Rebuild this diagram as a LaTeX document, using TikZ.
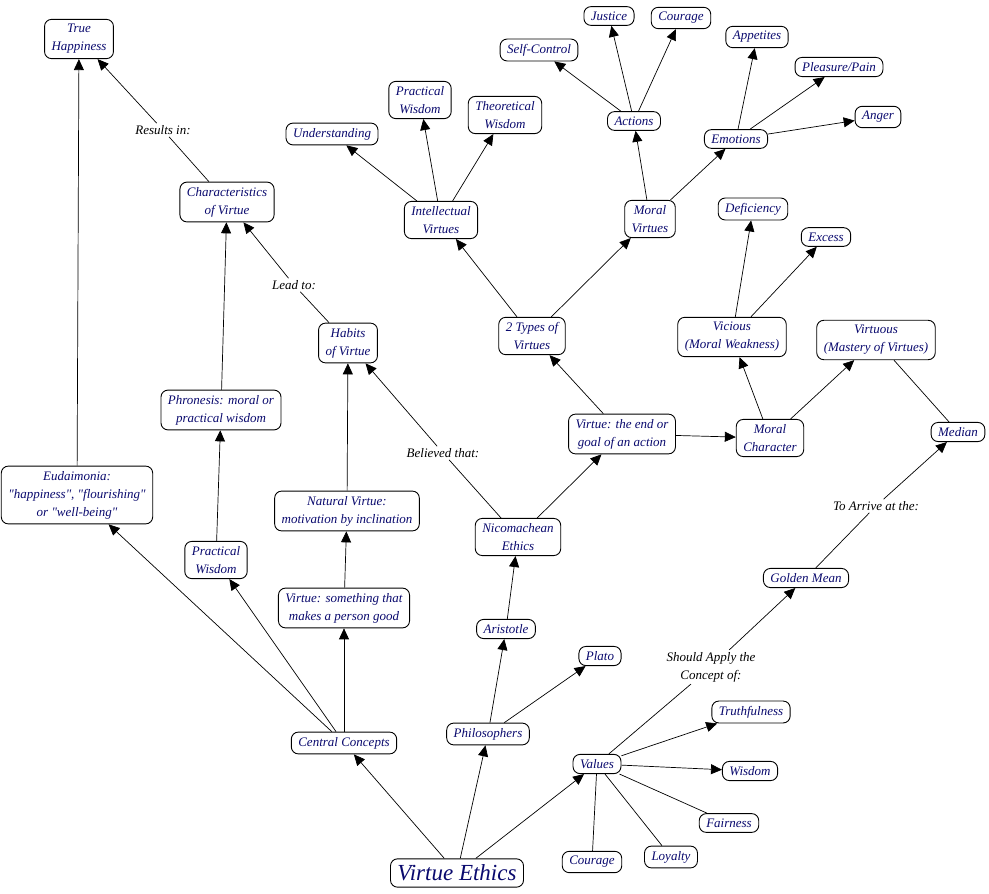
\documentclass[tikz,border=0pt]{standalone}
\usepackage{fontspec}
\setmainfont{Liberation Serif}[Ligatures=TeXOff]
\usetikzlibrary{arrows.meta}
\definecolor{navy}{RGB}{10,10,110}
\begin{document}
\begin{tikzpicture}[x=1pt,y=-1pt,
  cbox/.style={draw,line width=0.9pt,rounded corners=7pt,align=center,text=navy,font=\fontsize{13}{18}\selectfont\itshape,inner xsep=7pt,inner ysep=5pt,fill=white},
  lbl/.style={align=center,font=\fontsize{13}{18}\selectfont\itshape,fill=white,inner sep=2pt},
  ar/.style={-{Triangle[length=11pt,width=10pt]},line width=0.7pt},
  pl/.style={line width=0.7pt}]
\useasboundingbox (0,0) rectangle (989,894);
\node[cbox] (th) at (79,39) {True\\Happiness};
\node[lbl] (ri) at (163,130) {Results in:};
\node[cbox] (cv) at (227,202) {Characteristics\\of Virtue};
\node[lbl] (lt) at (294,285) {Lead to:};
\node[cbox] (hv) at (348,343) {Habits\\of Virtue};
\node[cbox] (ph) at (221,410) {Phronesis: moral or\\practical wisdom};
\node[cbox] (eu) at (77,495) {Eudaimonia:\\"happiness", "flourishing"\\or "well-being"};
\node[cbox] (nv) at (347,511) {Natural Virtue:\\motivation by inclination};
\node[cbox] (pw) at (216,560) {Practical\\Wisdom};
\node[cbox] (vs) at (344,608) {Virtue: something that\\makes a person good};
\node[cbox] (cc) at (344,743) {Central Concepts};
\node[cbox,font=\fontsize{23}{27}\selectfont\itshape,inner ysep=6pt] (ve) at (457,873) {Virtue Ethics};
\node[cbox] (pp) at (488,734) {Philosophers};
\node[cbox] (ar) at (506,629) {Aristotle};
\node[cbox] (pl) at (600,656) {Plato};
\node[cbox] (ne) at (518,537) {Nicomachean\\Ethics};
\node[lbl] (bt) at (443,453) {Believed that:};
\node[cbox] (ve2) at (622,434) {Virtue: the end or\\goal of an action};
\node[cbox] (tt) at (532,336) {2 Types of\\Virtues};
\node[cbox] (iv) at (441,220) {Intellectual\\Virtues};
\node[cbox] (un) at (332,134) {Understanding};
\node[cbox] (pw2) at (420,100) {Practical\\Wisdom};
\node[cbox] (tw) at (505,115) {Theoretical\\Wisdom};
\node[cbox] (mv) at (650,219) {Moral\\Virtues};
\node[cbox] (ac) at (634,121) {Actions};
\node[cbox] (sc) at (539,50) {Self-Control};
\node[cbox] (ju) at (609,16) {Justice};
\node[cbox] (co) at (681,18) {Courage};
\node[cbox] (em) at (736,139) {Emotions};
\node[cbox] (ap) at (757,37) {Appetites};
\node[cbox] (pa) at (839,67) {Pleasure/Pain};
\node[cbox] (an) at (878,117) {Anger};
\node[cbox] (de) at (753,209) {Deficiency};
\node[cbox] (ex) at (826,237) {Excess};
\node[cbox] (vi) at (732,337) {Vicious\\(Moral Weakness)};
\node[cbox] (vt) at (876,340) {Virtuous\\(Mastery of Virtues)};
\node[cbox] (mc) at (770,438) {Moral\\Character};
\node[cbox] (me) at (958,432) {Median};
\node[lbl] (ta) at (876,506) {To Arrive at the:};
\node[cbox] (gm) at (806,578) {Golden Mean};
\node[lbl] (sa) at (711,667) {Should Apply the\\Concept of:};
\node[cbox] (tr) at (751,712) {Truthfulness};
\node[cbox] (va) at (597,764) {Values};
\node[cbox] (wi) at (750,771) {Wisdom};
\node[cbox] (fa) at (729,823) {Fairness};
\node[cbox] (lo) at (671,857) {Loyalty};
\node[cbox] (co2) at (592,862) {Courage};

\draw[ar] (eu) -- (th);
\draw[pl] (cv) -- (ri); \draw[ar] (ri) -- (th);
\draw[ar] (ph) -- (cv);
\draw[pl] (hv) -- (lt); \draw[ar] (lt) -- (cv);
\draw[ar] (nv) -- (hv);
\draw[pl] (ne) -- (bt); \draw[ar] (bt) -- (hv);
\draw[ar] (ne) -- (ve2);
\draw[ar] (ve2) -- (tt);
\draw[ar] (ve2) -- (mc);
\draw[ar] (tt) -- (iv);
\draw[ar] (tt) -- (mv);
\draw[ar] (iv) -- (un);
\draw[ar] (iv) -- (pw2);
\draw[ar] (iv) -- (tw);
\draw[ar] (mv) -- (ac);
\draw[ar] (mv) -- (em);
\draw[ar] (ac) -- (sc);
\draw[ar] (ac) -- (ju);
\draw[ar] (ac) -- (co);
\draw[ar] (em) -- (ap);
\draw[ar] (em) -- (pa);
\draw[ar] (em) -- (an);
\draw[ar] (vi) -- (de);
\draw[ar] (vi) -- (ex);
\draw[ar] (mc) -- (vi);
\draw[ar] (mc) -- (vt);
\draw[pl] (vt) -- (me);
\draw[pl] (gm) -- (ta); \draw[ar] (ta) -- (me);
\draw[pl] (va) -- (sa); \draw[ar] (sa) -- (gm);
\draw[ar] (va) -- (tr);
\draw[ar] (va) -- (wi);
\draw[pl] (va) -- (fa);
\draw[pl] (va) -- (lo);
\draw[pl] (va) -- (co2);
\draw[ar] (ve) -- (cc);
\draw[ar] (ve) -- (pp);
\draw[ar] (ve) -- (va);
\draw[ar] (pp) -- (ar);
\draw[ar] (pp) -- (pl);
\draw[ar] (ar) -- (ne);
\draw[ar] (cc) -- (eu);
\draw[ar] (cc) -- (pw);
\draw[ar] (cc) -- (vs);
\draw[ar] (vs) -- (nv);
\draw[ar] (pw) -- (ph);
\end{tikzpicture}
\end{document}
